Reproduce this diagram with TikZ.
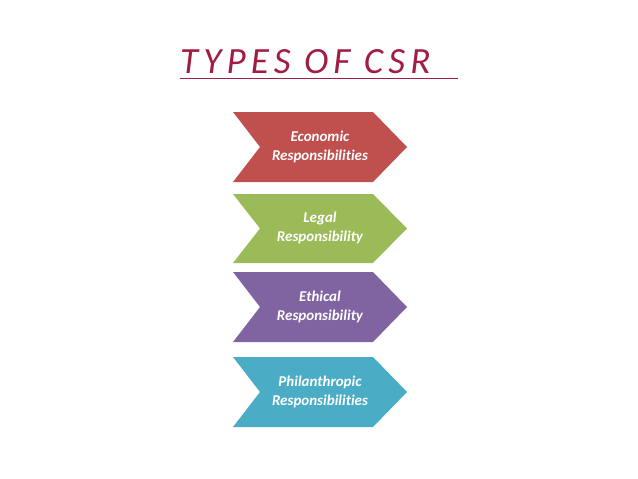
\documentclass[tikz,border=0pt]{standalone}
\usepackage{fontspec}
\setmainfont[Ligatures={NoCommon}]{Carlito}
\definecolor{titlered}{HTML}{A11D43}
\definecolor{c1}{HTML}{C0504D}
\definecolor{c2}{HTML}{9BBB59}
\definecolor{c3}{HTML}{8064A2}
\definecolor{c4}{HTML}{4BACC6}
\tikzset{lbl/.style={text=white,font=\fontsize{15}{19}\selectfont\bfseries\itshape,align=center}}
\newcommand{\chev}[3]{%
  \fill[#3] (233pt,-#1pt) -- (373pt,-#1pt) -- (407pt,{-(#1+#2)/2*1pt}) -- (373pt,-#2pt) -- (233pt,-#2pt) -- (260pt,{-(#1+#2)/2*1pt}) -- cycle;}
\begin{document}
\begin{tikzpicture}[x=1pt,y=1pt]
\useasboundingbox (0,0) rectangle (638,-479);
\node[anchor=base west,text=titlered,font=\fontsize{37}{40}\selectfont\itshape\addfontfeature{LetterSpace=14},inner sep=0] (title) at (180,-73) {TYPES OF CSR};
\draw[titlered,line width=1.6pt] (180,-78.5) -- (458,-78.5);
\chev{112}{182}{c1}
\chev{194}{263}{c2}
\chev{272}{342}{c3}
\chev{357}{427}{c4}
\node[lbl] (t1) at (320,-147) {Economic\\Responsibilities};
\node[lbl] (t2) at (320,-228) {Legal\\Responsibility};
\node[lbl] (t3) at (320,-307) {Ethical\\Responsibility};
\node[lbl] (t4) at (320,-392) {Philanthropic\\Responsibilities};
\end{tikzpicture}
\end{document}
